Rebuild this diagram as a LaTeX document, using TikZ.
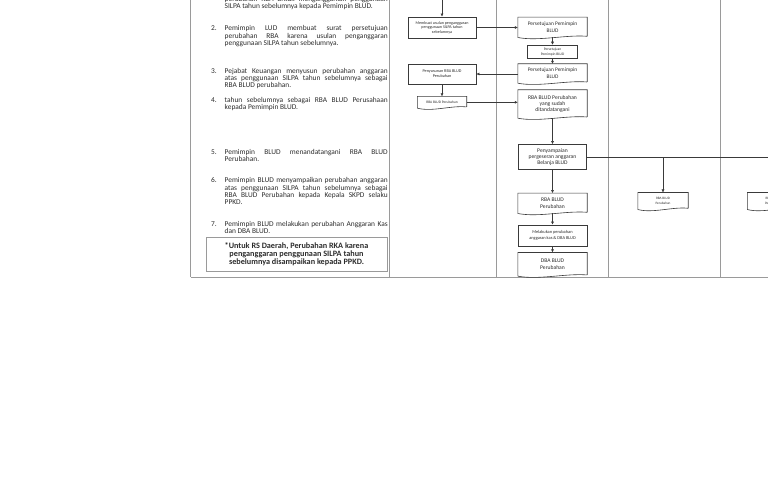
\documentclass[tikz,border=0pt]{standalone}
\usepackage{fontspec}
\setmainfont{Carlito}
\usepackage{tikz}
\usetikzlibrary{positioning,arrows.meta,calc}
\definecolor{linegray}{HTML}{9a9a9a}
\definecolor{boxblack}{HTML}{3a3a3a}
\definecolor{textblack}{HTML}{2b2b2b}

\begin{document}
\begin{tikzpicture}[x=1pt,y=1pt,
  every node/.style={inner sep=0pt, text=textblack},
  gridline/.style={linegray, line width=0.8pt},
  stepno/.style={anchor=base west, font={\fontsize{7.4}{7.3}\selectfont}},
  steptext/.style={anchor=base west, text width=163pt, align=justify,
    font={\fontsize{7.4}{7.3}\selectfont},
    execute at begin node={\hyphenpenalty=10000\tolerance=10000\relax}},
  procbox/.style={draw=boxblack, line width=0.6pt, align=center, minimum width=#1},
  docbox/.style={align=center, minimum width=#1},
  arr/.style={-{Latex[length=3pt,width=3pt]}, boxblack, line width=0.5pt}
]
\useasboundingbox (0,0) rectangle (768,-489);
\clip (0,0) rectangle (768,-489);

% Column helpers
\def\NX{211}   % step number
\def\TX{224.5} % step text

% Table lines
\foreach \x in {190.5,389,496,608,720}
  \draw[gridline] (\x,0) -- (\x,-277);
\draw[gridline] (190.5,-277) -- (768,-277);

% Steps
\node[steptext] (s1) at (\TX,-1.4)
  {perubahan RBA untuk menganggarkan penggunaan\linebreak SILPA tahun sebelumnya kepada Pemimpin BLUD.};
\node[stepno] (n2) at (\NX,-31) {2.};
\node[steptext] (s2) at (\TX,-31)
  {Pemimpin LUD membuat surat persetujuan\linebreak perubahan RBA karena usulan penganggaran\linebreak penggunaan SILPA tahun sebelumnya.};
\node[stepno] (n3) at (\NX,-73.4) {3.};
\node[steptext] (s3) at (\TX,-73.4)
  {Pejabat Keuangan menyusun perubahan anggaran\linebreak atas penggunaan SILPA tahun sebelumnya sebagai\linebreak RBA BLUD perubahan.};
\node[stepno] (n4) at (\NX,-102.4) {4.};
\node[steptext] (s4) at (\TX,-102.4)
  {tahun sebelumnya sebagai RBA BLUD Perusahaan\linebreak kepada Pemimpin BLUD.};
\node[stepno] (n5) at (\NX,-154.4) {5.};
\node[steptext] (s5) at (\TX,-154.4)
  {Pemimpin BLUD menandatangani RBA BLUD\linebreak Perubahan.};
\node[stepno] (n6) at (\NX,-183) {6.};
\node[steptext] (s6) at (\TX,-183)
  {Pemimpin BLUD menyampaikan perubahan anggaran\linebreak atas penggunaan SILPA tahun sebelumnya sebagai\linebreak RBA BLUD Perubahan kepada Kepala SKPD selaku\linebreak PPKD.};
\node[stepno] (n7) at (\NX,-226) {7.};
\node[steptext] (s7) at (\TX,-226)
  {Pemimpin BLUD melakukan perubahan Anggaran Kas\linebreak dan DBA BLUD.};

% Note
\node[draw=linegray, line width=1pt, minimum width=181pt, minimum height=34pt, align=center,
  font={\bfseries\fontsize{8.2}{8}\selectfont}] (note) at (296.5,-254.7)
  {*Untuk RS Daerah, Perubahan RKA karena\\penganggaran penggunaan SILPA tahun\\sebelumnya disampaikan kepada PPKD.};

% Flow: column 2
\node[procbox=68, minimum height=21pt, font={\fontsize{4.1}{4.5}\selectfont}] (usul) at (442,-27.5)
  {Membuat usulan penganggaran\\penggunaan SILPA tahun\\sebelumnya};
\node[procbox=68, minimum height=20pt, font={\fontsize{4.2}{5}\selectfont}] (susun) at (442,-74)
  {Penyusunan RBA BLUD\\Perubahan};
\node[docbox=49, minimum height=11.3pt, font={\fontsize{3.6}{4}\selectfont}] (rbadraft) at (442,-102.3)
  {RBA BLUD Perubahan};

% Flow: column 3
\node[docbox=69, minimum height=20pt, font={\fontsize{5.4}{7}\selectfont}] (setuju1) at (552.5,-27.3)
  {Persetujuan Pemimpin\\BLUD};
\node[procbox=50, minimum height=13.3pt, font={\fontsize{3.6}{5}\selectfont}] (setuju) at (552.5,-51.7)
  {Persetujuan\\Pemimpin BLUD};
\node[docbox=69, minimum height=19pt, font={\fontsize{5.4}{7}\selectfont}] (setuju2) at (552.5,-73.5)
  {Persetujuan Pemimpin\\BLUD};
\node[docbox=69, minimum height=28pt, font={\fontsize{5.6}{6}\selectfont}] (rbattd) at (552.5,-104)
  {RBA BLUD Perubahan\\yang sudah\\ditandatangani};
\node[procbox=68.4, minimum height=25pt, font={\fontsize{5.6}{6}\selectfont}] (sampai) at (552.5,-157)
  {Penyampaian\\pergeseran anggaran\\Belanja BLUD};
\node[docbox=69, minimum height=20pt, font={\fontsize{5.6}{7.3}\selectfont}] (rbaubah) at (552.5,-203.3)
  {RBA BLUD\\Perubahan};
\node[procbox=69, minimum height=21pt, font={\fontsize{4.4}{5.7}\selectfont}] (kas) at (552.5,-235.5)
  {Melakukan perubahan\\anggaran kas \& DBA BLUD};
\node[docbox=69, minimum height=23.3pt, font={\fontsize{5.6}{7.7}\selectfont}] (dba) at (552.5,-264.3)
  {DBA BLUD\\Perubahan};

% Flow: columns 4 and 5
\node[docbox=50, minimum height=16.6pt, font={\fontsize{3.4}{5}\selectfont}] (rbappkd) at (663,-201)
  {RBA BLUD\\Perubahan};
\node[docbox=50, minimum height=16.6pt, font={\fontsize{3.4}{5}\selectfont}] (rbaskpd) at (772.5,-201)
  {RBA BLUD\\Perubahan};

% Document outlines
\foreach \d in {setuju1,setuju2,rbadraft,rbattd,rbaubah,dba,rbappkd,rbaskpd}
  \draw[boxblack, line width=0.6pt]
    ([yshift=1.2pt]\d.south east) -- (\d.north east) -- (\d.north west) -- (\d.south west)
    .. controls ($(\d.south west)!0.3!(\d.south east)+(0,-4)$)
    and ($(\d.south west)!0.7!(\d.south east)+(0,3)$) .. ([yshift=1.2pt]\d.south east);

% Connectors
\coordinate (topin) at (442,0);
\draw[arr] (topin) -- (usul);
\draw[arr] (usul.east) -- (usul.east -| setuju1.west);
\draw[arr] (setuju1.south) -- (setuju.north);
\draw[arr] (setuju) -- (setuju2.north);
\draw[arr] (setuju2.west |- susun.east) -- (susun.east);
\draw[arr] (susun) -- (rbadraft);
\draw[arr] (rbadraft.east) -- (rbadraft.east -| rbattd.west);
\draw[arr] (rbattd.south) -- (sampai.north);
\draw[arr] (sampai) -- (rbaubah);
\draw[arr] (rbaubah) -- (kas);
\draw[arr] (kas) -- (dba);
\draw[arr] (sampai.east) -| (rbappkd.north);
\draw[arr] (sampai.east) -| (rbaskpd.north);

\end{tikzpicture}
\end{document}
